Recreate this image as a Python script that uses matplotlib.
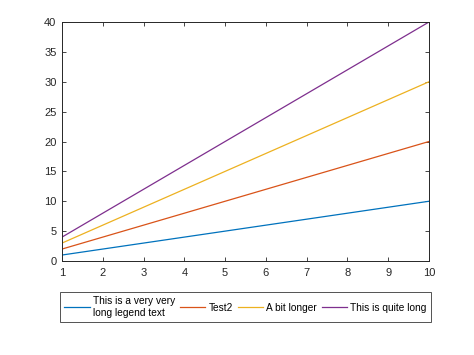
import matplotlib
matplotlib.use('Agg')
import matplotlib.pyplot as plt
import numpy as np

x = [1, 2, 3, 4, 5, 6, 7, 8, 9, 10]
y1 = [1, 2, 3, 4, 5, 6, 7, 8, 9, 10]
y2 = [2, 4, 6, 8, 10, 12, 14, 16, 18, 20]
y3 = [3, 6, 9, 12, 15, 18, 21, 24, 27, 30]
y4 = [4, 8, 12, 16, 20, 24, 28, 32, 36, 40]
labels = ['This is a very very\nlong legend text', 'Test2', 'A bit longer', 'This is quite long']
colors = ['#0072BD', '#D95319', '#EDB120', '#7E2F8E']

plt.rcParams['font.family'] = ['Liberation Sans', 'DejaVu Sans']
plt.rcParams['font.size'] = 8

fig = plt.figure(figsize=(4.74, 3.55), dpi=100)
ax = fig.add_axes([62/474, 1-261/355, (429-62)/474, (261-22)/355])

for y, c, l in zip([y1, y2, y3, y4], colors, labels):
    ax.plot(x, y, color=c, lw=0.9, label=l)

ax.set_xlim(1, 10)
ax.set_ylim(0, 40)
ax.set_xticks(range(1, 11))
ax.set_yticks(range(0, 41, 5))
ax.tick_params(direction='in', top=True, right=True, length=3, width=0.6,
               colors='#262626', labelcolor='#262626', labelsize=8)
ax.tick_params(axis='x', pad=5)
ax.tick_params(axis='y', pad=4)
for s in ax.spines.values():
    s.set_color('#262626')
    s.set_linewidth(0.7)

leg = ax.legend(loc='center', bbox_to_anchor=(245.5/474, 1-307/355),
                bbox_transform=fig.transFigure, ncol=4, frameon=True,
                fancybox=False, edgecolor='#262626', fontsize=7.3, handlelength=2.5,
                handletextpad=0.3, columnspacing=0.5, borderpad=0.4, borderaxespad=0,
                labelspacing=0.1)
leg.get_frame().set_linewidth(0.7)
for t in leg.get_texts():
    t.set_linespacing(1.3)
    t.set_color('#000000')

fig.savefig('out.png', dpi=100)
